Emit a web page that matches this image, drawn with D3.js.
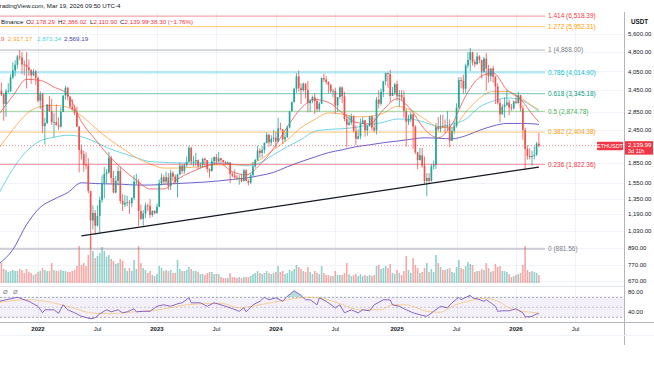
<!DOCTYPE html>
<html><head><meta charset="utf-8">
<script src="https://cdn.jsdelivr.net/npm/d3@7"></script>
<style>
html,body{margin:0;padding:0;background:#fff;overflow:hidden}
svg{display:block;font-family:"Liberation Sans",Arial,sans-serif}
</style></head><body>
<svg id="c" width="654" height="367"></svg>
<script>
// ---------- DATA (ETHUSDT, Binance, weekly) ----------
const firstWeek = "2021-09-06";
const lastWeek = "2026-03-16";
const opens = [
3926,3430,3330,3060,3410,3415,3845,4080,4290,4610,4570,4300,4290,4200,4100,3920,4050,
3830,3150,3330,2530,2600,3050,2880,2620,2620,2550,2520,2860,3290,3520,3260,2990,2920,2830,2520,2060,1990,1810,1805,1450,1125,1200,1075,1170,1340,1550,1680,1700,1930,1620,1430,1580,1720,1330,1290,1310,1315,1305,1365,1570,1570,1220,1140,1195,1280,1275,1180,1220,
1200,1265,1550,1630,1570,1630,1515,1690,1640,1560,1670,1800,1720,1810,1860,2100,1870,1870,1890,1800,1810,1910,1890,1750,1720,1870,1940,1870,1920,1890,1860,1830,1850,1680,1655,1630,1615,1620,1580,1730,1580,1555,1660,1790,1890,2050,2010,2060,2190,2350,2200,2270,
2290,2220,2480,2460,2260,2300,2500,2880,3110,3490,3880,3520,3450,3650,3450,3080,3150,3250,3140,2930,3070,3830,3780,3700,3620,3420,3430,3020,3250,3530,3270,2690,2560,2610,2750,2430,2270,2320,2580,2660,2440,2530,2750,2500,2440,3180,3070,3400,3720,4000,3960,3280,3370,
3630,3270,3310,3240,2880,2630,2690,2800,2520,2020,1890,1970,1800,1580,1620,1580,1790,1810,2510,2470,2530,2520,2510,2530,2230,2430,2540,2970,3760,3740,3490,4260,4470,4780,4390,4310,4610,4470,4040,4520,4150,3890,4160,3870,3560,3090,2800,2990,3040,3100,2970,2950,
3130,3090,3300,2950,2450,2080,1960,1940,1960,1980,2178.29];
const highs = [
3970,3680,3350,3490,3660,3960,4375,4460,4665,4868,4775,4450,4780,4490,4130,4140,4110,
3880,3410,3370,2720,3050,3280,3200,2830,3050,2730,2980,3300,3580,3550,3260,3190,3030,3000,2530,2160,2050,2020,1920,1450,1280,1230,1280,1380,1660,1780,1750,2030,1960,1720,1650,1790,1790,1410,1400,1390,1340,1370,1660,1680,1610,1290,1230,1310,1300,1350,1230,1230,
1300,1600,1680,1660,1710,1690,1740,1720,1670,1680,1850,1830,1840,1950,2140,2120,1960,2010,1900,1850,1930,1930,1890,1760,1930,1950,1990,2030,1930,1890,1870,1870,1860,1700,1745,1660,1660,1680,1750,1750,1600,1690,1860,1910,2140,2090,2130,2200,2400,2370,2340,2450,
2420,2720,2610,2470,2400,2540,2880,3130,3520,3990,4090,3660,3680,3650,3730,3200,3290,3350,3210,3120,3840,3975,3890,3720,3620,3490,3520,3250,3560,3560,3400,2800,2780,2820,2780,2550,2460,2700,2730,2670,2560,2760,2770,2720,3250,3450,3500,3740,4000,4000,4107,3540,3670,
3740,3450,3450,3440,2930,2790,2850,2830,2550,2030,2100,2100,1950,1690,1690,1830,1880,2600,2740,2790,2790,2680,2880,2680,2500,2640,3080,3860,3860,3940,4330,4790,4956,4800,4490,4770,4660,4480,4590,4750,4290,4090,4250,3900,3660,3200,3060,3240,3450,3180,3060,3150,
3310,3400,3310,3030,2500,2150,2090,2050,2130,2210,2386.02];
const lows = [
3000,3280,2650,2740,3370,3400,3790,3890,4150,4460,3960,3920,3500,3900,3640,3890,3610,
3100,2930,2380,2160,2580,2860,2560,2300,2550,2450,2500,2860,3180,3160,2950,2890,2780,2510,1700,1900,1710,1750,1420,881.56,1040,995,1070,1005,1310,1360,1550,1680,1550,1420,1420,1520,1300,1220,1260,1270,1190,1260,1340,1530,1073,1130,1075,1150,1220,1150,1160,1185,
1190,1260,1520,1530,1540,1460,1460,1580,1540,1370,1660,1680,1680,1780,1850,1810,1790,1800,1740,1760,1780,1780,1700,1625,1710,1820,1820,1860,1850,1830,1810,1810,1550,1630,1610,1600,1530,1560,1570,1580,1520,1540,1650,1770,1880,1930,1930,2000,2180,2120,2140,2210,
2100,2210,2440,2170,2210,2290,2480,2870,3110,3370,3410,3060,3400,3210,2850,2860,3080,2810,2860,2860,3060,3700,3620,3360,3360,3240,2810,2860,3190,3090,2640,2110,2540,2560,2400,2150,2260,2260,2570,2310,2330,2520,2440,2400,2360,2950,3020,3250,3600,3520,3100,3280,3310,
3160,3000,3140,2720,2120,2550,2620,2080,1990,1750,1880,1770,1540,1385,1540,1570,1740,1750,2420,2400,2490,2390,2440,2110,2230,2370,2500,2940,3500,3350,3360,4170,4060,4260,4200,4290,4350,3815,4000,3435,3680,3720,3680,3060,3050,2620,2800,2720,3000,2780,2890,2920,
3060,3070,2870,2250,1750,1900,1900,1800,1900,1960,2110.90];
const closes = [
3430,3330,3060,3410,3415,3845,4080,4290,4610,4570,4300,4290,4200,4100,3920,4050,3830,
3150,3330,2530,2600,3050,2880,2620,2620,2550,2520,2860,3290,3520,3260,2990,2920,2830,2520,2060,1990,1810,1805,1450,1125,1200,1075,1170,1340,1550,1680,1700,1930,1620,1430,1580,1720,1330,1290,1310,1315,1305,1365,1570,1570,1220,1140,1195,1280,1275,1180,1220,1200,
1265,1550,1630,1570,1630,1515,1690,1640,1560,1670,1800,1720,1810,1860,2100,1870,1870,1890,1800,1810,1910,1890,1750,1720,1870,1940,1870,1920,1890,1860,1830,1850,1680,1655,1630,1615,1620,1580,1730,1580,1555,1660,1790,1890,2050,2010,2060,2190,2350,2200,2270,2290,
2220,2480,2460,2260,2300,2500,2880,3110,3490,3880,3520,3450,3650,3450,3080,3150,3250,3140,2930,3070,3830,3780,3700,3620,3420,3430,3020,3250,3530,3270,2690,2560,2610,2750,2430,2270,2320,2580,2660,2440,2530,2750,2500,2440,3180,3070,3400,3720,4000,3960,3280,3370,3630,
3270,3310,3240,2880,2630,2690,2800,2520,2020,1890,1970,1800,1580,1620,1580,1790,1810,2510,2470,2530,2520,2510,2530,2230,2430,2540,2970,3760,3740,3490,4260,4470,4780,4390,4310,4610,4470,4040,4520,4150,3890,4160,3870,3560,3090,2800,2990,3040,3100,2970,2950,3130,
3090,3300,2950,2450,2080,1960,1940,1960,1980,2178.29,2139.99];
// volume, in 100k ETH
const volumes = [
13,20,14,13,11,12,13,12,12,14,13,10,14,11,10,8,9,
11,12,15,13,12,12,20,13,12,12,13,12,12,11,11,12,13,17,37,18,20,17,28,47,32,25,27,30,36,32,26,28,24,22,19,20,24,22,15,12,15,12,23,14,37,20,15,13,10,12,8,7,
9,17,15,12,13,12,13,10,10,23,14,12,12,13,16,14,12,12,11,9,9,8,10,11,11,9,9,9,6,5,5,5,10,6,6,5,6,5,6,6,6,7,9,10,12,10,9,10,12,10,9,10,
11,17,11,12,9,10,13,12,14,18,16,14,12,11,16,11,9,12,10,9,17,10,8,8,7,7,12,8,8,8,10,20,9,7,8,9,7,9,7,8,7,8,7,8,17,18,14,15,17,15,19,10,9,
13,10,8,12,27,13,10,25,18,15,10,11,15,20,11,14,11,28,20,16,13,13,14,15,11,10,16,23,15,14,17,21,19,18,11,12,12,14,13,20,15,11,12,19,16,17,12,12,11,9,6,7,
8,9,10,18,37,13,11,12,11,10,8];

// moving averages read at sampled week indexes
const maWeekIdx = [0,6,12,18,24,30,36,42,48,54,60,66,72,78,84,90,96,102,108,114,120,126,132,138,144,150,156,162,168,174,180,186,192,198,204,210,216,222,228,234,236];
const maRed    = [2810,3280,3785,3750,3540,3325,2630,2260,1960,1750,1590,1475,1475,1605,1705,1790,1840,1710,1665,1815,2090,2515,2950,3180,3105,2840,2615,2580,2915,3200,2920,2465,2290,2575,3280,3845,4000,3460,3190,2740,2625.19];
const maOrange = [2100,2455,2810,2995,3025,2975,2765,2495,2265,2090,1930,1830,1765,1765,1775,1790,1815,1815,1815,1895,2065,2250,2495,2680,2835,2810,2740,2755,2830,3000,2905,2695,2515,2495,2855,3215,3410,3410,3230,2980,2917.17];
const maCyan   = [1425,1750,2040,2230,2300,2340,2310,2210,2090,2005,1930,1865,1855,1845,1845,1845,1845,1825,1800,1845,1980,2120,2255,2420,2460,2475,2505,2560,2615,2690,2685,2615,2525,2570,2685,2980,3140,3225,3170,2960,2873.34];
const maPurple = [775,875,1085,1260,1350,1430,1555,1545,1540,1535,1525,1525,1535,1545,1555,1565,1580,1600,1620,1655,1700,1785,1865,1940,2015,2065,2120,2155,2195,2225,2260,2290,2280,2270,2330,2440,2535,2590,2590,2580,2569.19];

// RSI (14) read at week indexes
const rsiIdx = [0,8,13,17,19,20,24,26,28,30,33,36,40,42,44,47,49,52,54,56,59,60,63,66,69,72,75,78,80,83,84,88,91,94,97,101,105,107,108,111,114,116,118,121,124,126,129,132,134,136,139,140,143,147,149,151,154,157,159,162,164,168,171,172,175,178,181,184,187,190,193,196,198,201,202,205,206,207,209,212,213,215,217,218,220,223,226,229,230,232,233,235,236];
const rsiVal = [62,70,62,52,39,45,45,38,55,45,39,32,27,29,37,45,41,45,39,41,47,41,42,42,52,55,52,57,59,69,59,59,52,59,55,49,42,49,41,55,62,70,65,69,62,72,83,74,65,65,55,69,62,49,55,39,45,39,45,43,55,65,65,55,52,45,39,35,32,42,52,49,59,70,65,72,74,69,67,62,65,59,52,42,43,43,47,39,31,31,32,37,36.6];
const rsiMaIdx = [0,13,30,40,48,59,70,82,97,105,114,126,135,140,149,158,167,172,178,187,193,198,205,212,218,223,229,235,236];
const rsiMaVal = [60,65,52,39,37,41,45,55,58,49,55,65,70,69,57,45,45,55,55,42,40,52,62,68,62,49,42,39,38.5];

// Fibonacci retracement levels
const fibRatios = ["1.414","1.272","1","0.786","0.618","0.5","0.382","0.236","0"];
const fibPrices = [6518.39,5952.31,4868.00,4014.90,3345.18,2874.78,2404.38,1822.36,881.56];
const fibColors = ["#f23645","#ff9800","#787b86","#00bcd4","#089981","#4caf50","#ff9800","#f23645","#787b86"];

// trend line (drawing)
const trendDates = ["2022-05-16","2026-03-16"];
const trendPrices = [985,1780];

// axes
const priceTicks = [5600,4800,4050,3450,2850,2450,1850,1550,1350,1190,1030,890,770,670];
const timeTickDates = ["2022-01-03","2022-07-04","2023-01-02","2023-07-03","2024-01-01","2024-07-01","2025-01-06","2025-07-07","2026-01-05","2026-07-06"];
const timeTickLabels = ["2022","Jul","2023","Jul","2024","Jul","2025","Jul","2026","Jul"];
const rsiTicks = [80,40];
const lastPrice = 2139.99;

// ---------- DRAW ----------
const svg = d3.select("#c");
const W = 654, AX = 624, TOP = 12, MAIN_B = 286, RSI_B = 322;
const weeks = d3.utcMonday.range(new Date(firstWeek), new Date(new Date(lastWeek).getTime()+86400000));
const x = d3.scaleUtc().domain([new Date("2022-01-03"), new Date("2026-01-05")]).range([38, 516]);
const y = d3.scaleLog().domain([670, 4800]).range([280.7, 51.7]);
const yV = d3.scaleLinear().domain([0, 45]).range([283, 238]);
const yR = d3.scaleLinear().domain([40, 80]).range([312.3, 292.3]);
const fmt = d3.format(",.2f");
const UP = "#26a69a", DN = "#ef5350";

const defs = svg.append("defs");
defs.append("clipPath").attr("id","mainClip").append("rect").attr("x",0).attr("y",TOP).attr("width",AX).attr("height",MAIN_B-TOP);
defs.append("clipPath").attr("id","rsiClip").append("rect").attr("x",0).attr("y",MAIN_B).attr("width",AX).attr("height",RSI_B-MAIN_B);
defs.append("clipPath").attr("id","obClip").append("rect").attr("x",0).attr("y",MAIN_B).attr("width",AX).attr("height",yR(70)-MAIN_B);
defs.append("clipPath").attr("id","osClip").append("rect").attr("x",0).attr("y",yR(30)).attr("width",AX).attr("height",RSI_B-yR(30));

// grid
const grid = svg.append("g");
timeTickDates.forEach(d=>{
  const xx = Math.round(x(new Date(d)))+0.5;
  grid.append("line").attr("x1",xx).attr("x2",xx).attr("y1",TOP).attr("y2",RSI_B).attr("stroke","#f0f3fa").attr("stroke-width",1);
});
priceTicks.forEach(p=>{
  const yy = Math.round(y(p))+0.5;
  grid.append("line").attr("x1",0).attr("x2",AX).attr("y1",yy).attr("y2",yy).attr("stroke","#f0f3fa");
});

const main = svg.append("g").attr("clip-path","url(#mainClip)");

// volume
main.append("g").selectAll("rect").data(volumes).join("rect")
  .attr("x",(d,i)=>x(weeks[i])-0.8).attr("width",1.6)
  .attr("y",d=>yV(d)).attr("height",d=>yV(0)-yV(d))
  .attr("fill",(d,i)=>closes[i]>=opens[i]?UP:DN).attr("opacity",0.5);

// fib lines
fibPrices.forEach((p,k)=>{
  const yy = y(p);
  const thick = (fibRatios[k]==="0"||fibRatios[k]==="0.786");
  svg.append("line").attr("x1",0).attr("x2",545).attr("y1",yy).attr("y2",yy)
    .attr("stroke", fibColors[k]).attr("stroke-width", thick?2.2:1)
    .attr("opacity", thick?0.3:0.55);
  svg.append("text").attr("x",548).attr("y",yy).attr("dy","0.35em")
    .attr("font-size",6.5).attr("fill",fibColors[k])
    .text(`${fibRatios[k]} (${fmt(p)})`);
});

// moving averages
const maLine = d3.line().x(d=>x(weeks[d[0]])).y(d=>y(d[1])).curve(d3.curveMonotoneX);
[[maPurple,"#5e4fc9",0.9],[maCyan,"#6fd6e6",1],[maOrange,"#ffb05c",0.95],[maRed,"#ef5350",0.8]].forEach(([arr,col,op])=>{
  main.append("path").datum(maWeekIdx.map((w,k)=>[w,arr[k]]))
    .attr("d",maLine).attr("fill","none").attr("stroke",col).attr("stroke-width",1).attr("opacity",op);
});

// current price line
main.append("line").attr("x1",0).attr("x2",AX).attr("y1",y(lastPrice)).attr("y2",y(lastPrice))
  .attr("stroke","#f23645").attr("stroke-dasharray","1,2").attr("opacity",0.6);

// candles
const cg = main.append("g");
opens.forEach((o,i)=>{
  const cx = x(weeks[i]);
  const col = closes[i]>=o?UP:DN;
  cg.append("line").attr("x1",cx).attr("x2",cx).attr("y1",y(highs[i])).attr("y2",y(lows[i]))
    .attr("stroke",col).attr("stroke-width",0.8);
  const y0 = y(Math.max(o,closes[i])), y1 = y(Math.min(o,closes[i]));
  cg.append("rect").attr("x",cx-0.85).attr("width",1.7).attr("y",y0).attr("height",Math.max(0.8,y1-y0)).attr("fill",col);
});

// trend line
svg.append("line")
  .attr("x1",x(new Date(trendDates[0]))).attr("y1",y(trendPrices[0]))
  .attr("x2",x(new Date(trendDates[1]))).attr("y2",y(trendPrices[1]))
  .attr("stroke","#131722").attr("stroke-width",1.3);

// pane separator
svg.append("line").attr("x1",0).attr("x2",AX).attr("y1",MAIN_B+0.5).attr("y2",MAIN_B+0.5).attr("stroke","#e0e3eb");

// RSI pane
const rg = svg.append("g").attr("clip-path","url(#rsiClip)");
rg.append("rect").attr("x",0).attr("width",AX).attr("y",yR(70)).attr("height",yR(30)-yR(70)).attr("fill","#7e57c2").attr("opacity",0.09);
[70,50,30].forEach(v=>{
  rg.append("line").attr("x1",0).attr("x2",AX).attr("y1",yR(v)).attr("y2",yR(v))
    .attr("stroke","#787b86").attr("stroke-dasharray","2,2").attr("opacity",v===50?0.35:0.6);
});
const rsiPts = rsiIdx.map((w,k)=>[w,rsiVal[k]]);
rg.append("path").datum(rsiPts).attr("clip-path","url(#obClip)")
  .attr("d",d3.area().x(d=>x(weeks[d[0]])).y0(yR(70)).y1(d=>yR(d[1])))
  .attr("fill","#26a69a").attr("opacity",0.35);
rg.append("path").datum(rsiPts).attr("clip-path","url(#osClip)")
  .attr("d",d3.area().x(d=>x(weeks[d[0]])).y0(yR(30)).y1(d=>yR(d[1])))
  .attr("fill","#ef5350").attr("opacity",0.35);
rg.append("path").datum(rsiMaIdx.map((w,k)=>[w,rsiMaVal[k]]))
  .attr("d",d3.line().x(d=>x(weeks[d[0]])).y(d=>yR(d[1])).curve(d3.curveMonotoneX))
  .attr("fill","none").attr("stroke","#f5c26b").attr("stroke-width",1).attr("opacity",0.7);
rg.append("path").datum(rsiPts)
  .attr("d",d3.line().x(d=>x(weeks[d[0]])).y(d=>yR(d[1])))
  .attr("fill","none").attr("stroke","#7e57c2").attr("stroke-width",0.9);
svg.append("text").attr("x",3).attr("y",293.5).attr("font-size",6).attr("fill","#787b86").text("Ø");
svg.append("text").attr("x",13).attr("y",293.5).attr("font-size",6).attr("fill","#787b86").text("Ø");

// axes lines
svg.append("line").attr("x1",AX+0.5).attr("x2",AX+0.5).attr("y1",TOP).attr("y2",345).attr("stroke","#b2b5be");
svg.append("line").attr("x1",0).attr("x2",W).attr("y1",RSI_B+0.5).attr("y2",RSI_B+0.5).attr("stroke","#b2b5be");
svg.append("line").attr("x1",0).attr("x2",W).attr("y1",335.5).attr("y2",335.5).attr("stroke","#f0f3fa");

// price axis labels
priceTicks.forEach(p=>{
  svg.append("text").attr("x",628).attr("y",y(p)).attr("dy","0.35em").attr("font-size",6).attr("fill","#131722").text(fmt(p));
});
rsiTicks.forEach(v=>{
  svg.append("text").attr("x",628).attr("y",yR(v)).attr("dy","0.35em").attr("font-size",6).attr("fill","#131722").text(fmt(v));
});
svg.append("text").attr("x",631).attr("y",22).attr("dy","0.35em").attr("font-size",6.3).attr("font-weight","bold").attr("fill","#131722").text("USDT");

// time axis labels
timeTickDates.forEach((d,k)=>{
  svg.append("text").attr("x",x(new Date(d))).attr("y",328.5).attr("dy","0.35em").attr("text-anchor","middle")
    .attr("font-size",6).attr("font-weight",/^\d/.test(timeTickLabels[k])?"bold":"normal")
    .attr("fill","#131722").text(timeTickLabels[k]);
});

// last price tags
const ly = y(lastPrice);
svg.append("rect").attr("x",597).attr("y",ly-4).attr("width",26).attr("height",8.5).attr("fill","#f23645").attr("rx",1);
svg.append("text").attr("x",610).attr("y",ly+0.3).attr("dy","0.35em").attr("text-anchor","middle").attr("font-size",5.5).attr("fill","#fff").text("ETHUSDT");
svg.append("rect").attr("x",625).attr("y",ly-4.5).attr("width",28).attr("height",13.5).attr("fill","#f23645");
svg.append("text").attr("x",628).attr("y",ly-0.5).attr("dy","0.35em").attr("font-size",6).attr("fill","#fff").text(fmt(lastPrice));
svg.append("text").attr("x",628).attr("y",ly+5.5).attr("dy","0.35em").attr("font-size",5.5).attr("fill","#fff").text("3d 11h");

// header legend
svg.append("text").attr("x",-3.7).attr("y",6).attr("dy","0.35em").attr("font-size",6.2).attr("fill","#131722")
  .text("TradingView.com, Mar 19, 2026 09:50 UTC-4");
const RED = "#f23645";
const l2 = [["Binance",1,null],["O",26,opens[236]],["H",58,highs[236]],["L",90,lows[236]],["C",120,closes[236]]];
l2.forEach(([lab,xx,val])=>{
  const t = svg.append("text").attr("x",xx).attr("y",22).attr("dy","0.35em").attr("font-size",6.2);
  t.append("tspan").attr("fill","#131722").text(lab);
  if(val!==null) t.append("tspan").attr("fill",RED).text(fmt(val));
});
const chg = closes[236]-opens[236];
svg.append("text").attr("x",147).attr("y",22).attr("dy","0.35em").attr("font-size",6.2).attr("fill",RED)
  .text(`${fmt(chg).replace("-","−")} (${(chg/opens[236]*100).toFixed(2).replace("-","−")}%)`);
const l3 = [[maRed,4.5,"#ef5350","end"],[maOrange,8,"#f5a623","start"],[maCyan,37,"#4dd0e1","start"],[maPurple,64,"#3f3fa8","start"]];
l3.forEach(([arr,xx,col,anc])=>{
  svg.append("text").attr("x",xx).attr("y",39).attr("dy","0.35em").attr("font-size",6.2).attr("fill",col)
    .attr("text-anchor",anc).text(fmt(arr[arr.length-1]));
});
</script>
</body></html>
